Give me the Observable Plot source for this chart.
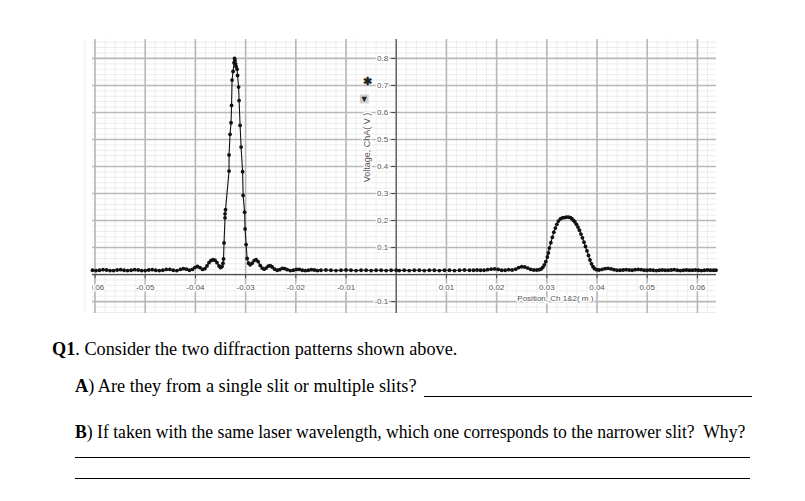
<!DOCTYPE html>
<html><head><meta charset="utf-8">
<script src="https://cdn.jsdelivr.net/npm/d3@7"></script>
<script src="https://cdn.jsdelivr.net/npm/@observablehq/plot@0.6"></script>
<style>
body{margin:0;background:#fff;width:805px;height:501px;position:relative;overflow:hidden;font-family:"Liberation Serif","Times New Roman",serif;}
#chart{position:absolute;left:0;top:0;}
.q{position:absolute;font-size:18px;line-height:20px;color:#000;white-space:nowrap;transform-origin:0 0;}
.ul{position:absolute;border-top:1px solid #000;height:0;}
</style></head><body>
<div id="chart"></div>
<div class="q" style="left:52px;top:339px;transform:scaleX(1.013)"><b>Q1</b>. Consider the two diffraction patterns shown above.</div>
<div class="q" style="left:75px;top:376px;transform:scaleX(1.015)"><b>A</b>) Are they from a single slit or multiple slits?</div>
<div class="ul" style="left:424px;top:396px;width:328px"></div>
<div class="q" style="left:75px;top:422px;transform:scaleX(0.98)"><b>B</b>) If taken with the same laser wavelength, which one corresponds to the narrower slit?&nbsp; Why?</div>
<div class="ul" style="left:75px;top:457px;width:675px"></div>
<div class="ul" style="left:75px;top:478px;width:675px"></div>
<script>
// Left diffraction pattern (position m, voltage V)
const leftPos = [-0.0605,-0.0598,-0.0591,-0.0584,-0.0577,-0.0570,-0.0563,-0.0556,-0.0549,-0.0542,-0.0535,-0.0528,-0.0521,-0.0514,-0.0507,-0.0500,-0.0493,-0.0486,-0.0479,-0.0472,-0.0465,-0.0458,-0.0451,-0.0444,-0.0437,-0.0430,-0.0424,-0.0418,-0.0412,-0.0406,-0.0401,-0.0396,-0.0391,-0.0386,-0.0381,-0.0377,-0.0373,-0.0369,-0.0365,-0.0361,-0.0357,-0.0353,-0.0350,-0.0347,-0.0345,-0.0344,-0.0343,-0.0341,-0.0341,-0.0340,-0.0333,-0.0333,-0.0331,-0.0329,-0.0328,-0.0327,-0.0325,-0.0323,-0.0322,-0.0321,-0.0320,-0.0319,-0.0317,-0.0316,-0.0314,-0.0313,-0.0311,-0.0309,-0.0306,-0.0305,-0.0302,-0.0301,-0.0299,-0.0297,-0.0294,-0.0291,-0.0287,-0.0283,-0.0279,-0.0275,-0.0271,-0.0267,-0.0263,-0.0259,-0.0255,-0.0251,-0.0247,-0.0242,-0.0237,-0.0232,-0.0227,-0.0222,-0.0217,-0.0211,-0.0205,-0.0199,-0.0193,-0.0187,-0.0181,-0.0175,-0.0169,-0.0163,-0.0157,-0.0150,-0.0140,-0.0130,-0.0120,-0.0110,-0.0100,-0.0090,-0.0080,-0.0070,-0.0060,-0.0050,-0.0040,-0.0030,-0.0020,-0.0010,0.0000];
const leftVolt = [0.016,0.015,0.016,0.018,0.017,0.015,0.015,0.017,0.018,0.016,0.015,0.016,0.018,0.017,0.015,0.015,0.017,0.018,0.016,0.015,0.016,0.019,0.019,0.016,0.015,0.019,0.022,0.020,0.016,0.019,0.026,0.030,0.026,0.019,0.022,0.032,0.044,0.052,0.055,0.053,0.044,0.032,0.026,0.030,0.042,0.058,0.117,0.210,0.225,0.240,0.383,0.443,0.519,0.562,0.626,0.720,0.752,0.784,0.800,0.792,0.780,0.770,0.760,0.737,0.694,0.644,0.552,0.472,0.381,0.293,0.231,0.169,0.111,0.060,0.042,0.036,0.042,0.052,0.055,0.048,0.034,0.024,0.020,0.024,0.031,0.033,0.028,0.020,0.016,0.018,0.023,0.022,0.018,0.015,0.016,0.019,0.019,0.016,0.015,0.016,0.018,0.017,0.015,0.016,0.017,0.016,0.015,0.016,0.017,0.016,0.015,0.016,0.016,0.015,0.016,0.016,0.015,0.016,0.016];
// Right diffraction pattern
const rightPos = [0.0006,0.0016,0.0026,0.0036,0.0046,0.0056,0.0066,0.0076,0.0086,0.0096,0.0106,0.0116,0.0126,0.0136,0.0146,0.0154,0.0161,0.0168,0.0175,0.0182,0.0189,0.0196,0.0203,0.0210,0.0217,0.0224,0.0231,0.0238,0.0244,0.0250,0.0256,0.0262,0.0268,0.0274,0.0280,0.0285,0.0289,0.0292,0.0295,0.0298,0.0301,0.0303,0.0305,0.0308,0.0311,0.0314,0.0317,0.0320,0.0323,0.0327,0.0331,0.0335,0.0339,0.0343,0.0347,0.0350,0.0353,0.0356,0.0359,0.0362,0.0365,0.0368,0.0371,0.0374,0.0377,0.0380,0.0383,0.0386,0.0389,0.0392,0.0395,0.0399,0.0404,0.0410,0.0416,0.0422,0.0428,0.0434,0.0440,0.0446,0.0452,0.0458,0.0464,0.0470,0.0476,0.0482,0.0488,0.0494,0.0500,0.0506,0.0512,0.0518,0.0524,0.0530,0.0536,0.0542,0.0548,0.0554,0.0560,0.0566,0.0572,0.0578,0.0584,0.0590,0.0596,0.0602,0.0608,0.0614,0.0620,0.0626,0.0632,0.0637];
const rightVolt = [0.015,0.016,0.015,0.016,0.016,0.015,0.016,0.016,0.015,0.016,0.016,0.015,0.016,0.017,0.016,0.016,0.017,0.016,0.016,0.018,0.020,0.021,0.019,0.016,0.016,0.018,0.017,0.020,0.026,0.029,0.028,0.024,0.019,0.017,0.017,0.018,0.021,0.027,0.036,0.048,0.065,0.080,0.098,0.118,0.138,0.157,0.172,0.186,0.198,0.206,0.210,0.211,0.213,0.213,0.211,0.207,0.201,0.195,0.186,0.176,0.164,0.150,0.136,0.120,0.104,0.088,0.071,0.054,0.040,0.029,0.022,0.018,0.017,0.019,0.022,0.023,0.021,0.018,0.016,0.016,0.017,0.018,0.017,0.016,0.018,0.019,0.018,0.016,0.016,0.017,0.016,0.015,0.016,0.017,0.016,0.016,0.017,0.018,0.016,0.015,0.016,0.017,0.016,0.016,0.017,0.016,0.015,0.016,0.017,0.016,0.016,0.016];

const xTicks = [-0.06,-0.05,-0.04,-0.03,-0.02,-0.01,0.01,0.02,0.03,0.04,0.05,0.06];
const xTickLabels = ["-0.06","-0.05","-0.04","-0.03","-0.02","-0.01","0.01","0.02","0.03","0.04","0.05","0.06"];
const yTicks = [-0.1,0.1,0.2,0.3,0.4,0.5,0.6,0.7,0.8];
const yTickLabels = ["-0.1","0.1","0.2","0.3","0.4","0.5","0.6","0.7","0.8"];
const xTitle = "Position, Ch 1&2( m )";
const yTitle = "Voltage, ChA( V )";

const xDomain = [-0.0605, 0.0638];
const yDomain = [-0.144, 0.870];
const xMajorGrid = d3.range(-6, 7).map(d => d / 100);
const yMajorGrid = d3.range(-1, 9).map(d => d / 10);
const xMinorGrid = d3.range(-31, 32).map(d => d * 0.002);
const yMinorGrid = d3.range(-7, 44).map(d => d * 0.02);

const left = leftPos.map((p, i) => ({pos: p, volt: leftVolt[i]}));
const right = rightPos.map((p, i) => ({pos: p, volt: rightVolt[i]}));
const xt = xTicks.map((v, i) => ({v, label: xTickLabels[i]}));
const yt = yTicks.map((v, i) => ({v, label: yTickLabels[i]}));

const halo = {stroke: "white", strokeWidth: 3, paintOrder: "stroke"};

const chart = Plot.plot({
  width: 805, height: 325,
  marginLeft: 92, marginRight: 89, marginTop: 39, marginBottom: 12,
  x: {domain: xDomain, axis: null},
  y: {domain: yDomain, axis: null},
  style: {background: "transparent", fontFamily: "'Liberation Sans', Arial, sans-serif"},
  marks: [
    Plot.ruleX(xMinorGrid, {stroke: "#ececec", strokeWidth: 1}),
    Plot.ruleY(yMinorGrid, {stroke: "#ececec", strokeWidth: 1}),
    Plot.ruleX(xMajorGrid, {stroke: "#b8b8b8", strokeWidth: 1.6}),
    Plot.ruleY(yMajorGrid, {stroke: "#b8b8b8", strokeWidth: 1.6}),
    Plot.ruleX([0], {stroke: "#444", strokeWidth: 1}),
    Plot.ruleY([0], {stroke: "#444", strokeWidth: 1}),
    Plot.ruleX(xt, {x: "v", y1: () => 0, y2: () => -0.015, stroke: "#444"}),
    Plot.ruleY(yt, {y: "v", x1: () => 0, x2: () => -0.0009, stroke: "#444"}),
    Plot.text(xt, {x: "v", y: () => 0, text: "label", dy: 13, fontSize: 8, fill: "#555", clip: true, ...halo}),
    Plot.text(yt, {x: () => 0, y: "v", text: "label", dx: -8, textAnchor: "end", fontSize: 8, fill: "#555", ...halo}),
    Plot.text([xTitle], {x: () => 0.0317, y: () => 0, text: d => d, dy: 24, fontSize: 8, fill: "#555", ...halo}),
    Plot.text([yTitle], {x: () => 0, y: () => 0.470, text: d => d, dx: -29, rotate: -90, fontSize: 9, fill: "#555", ...halo}),
    Plot.dot(["▼"], {x: () => 0, y: () => 0.650, dx: -32, symbol: "square", r: 5, fill: "#d0d0d0"}),
    Plot.text(["▼"], {x: () => 0, y: () => 0.650, text: d => d, dx: -32, fontSize: 9, fill: "#222"}),
    Plot.text(["✱"], {x: () => 0, y: () => 0.713, text: d => d, dx: -29, fontSize: 11, fill: "#222", fontWeight: "bold"}),
    Plot.line(left, {x: "pos", y: "volt", stroke: "#111", strokeWidth: 1.1}),
    Plot.dot(left, {x: "pos", y: "volt", r: 1.9, fill: "#111"}),
    Plot.line(right, {x: "pos", y: "volt", stroke: "#111", strokeWidth: 1.1}),
    Plot.dot(right, {x: "pos", y: "volt", r: 1.9, fill: "#111"})
  ]
});
document.getElementById("chart").appendChild(chart);
</script>
</body></html>
